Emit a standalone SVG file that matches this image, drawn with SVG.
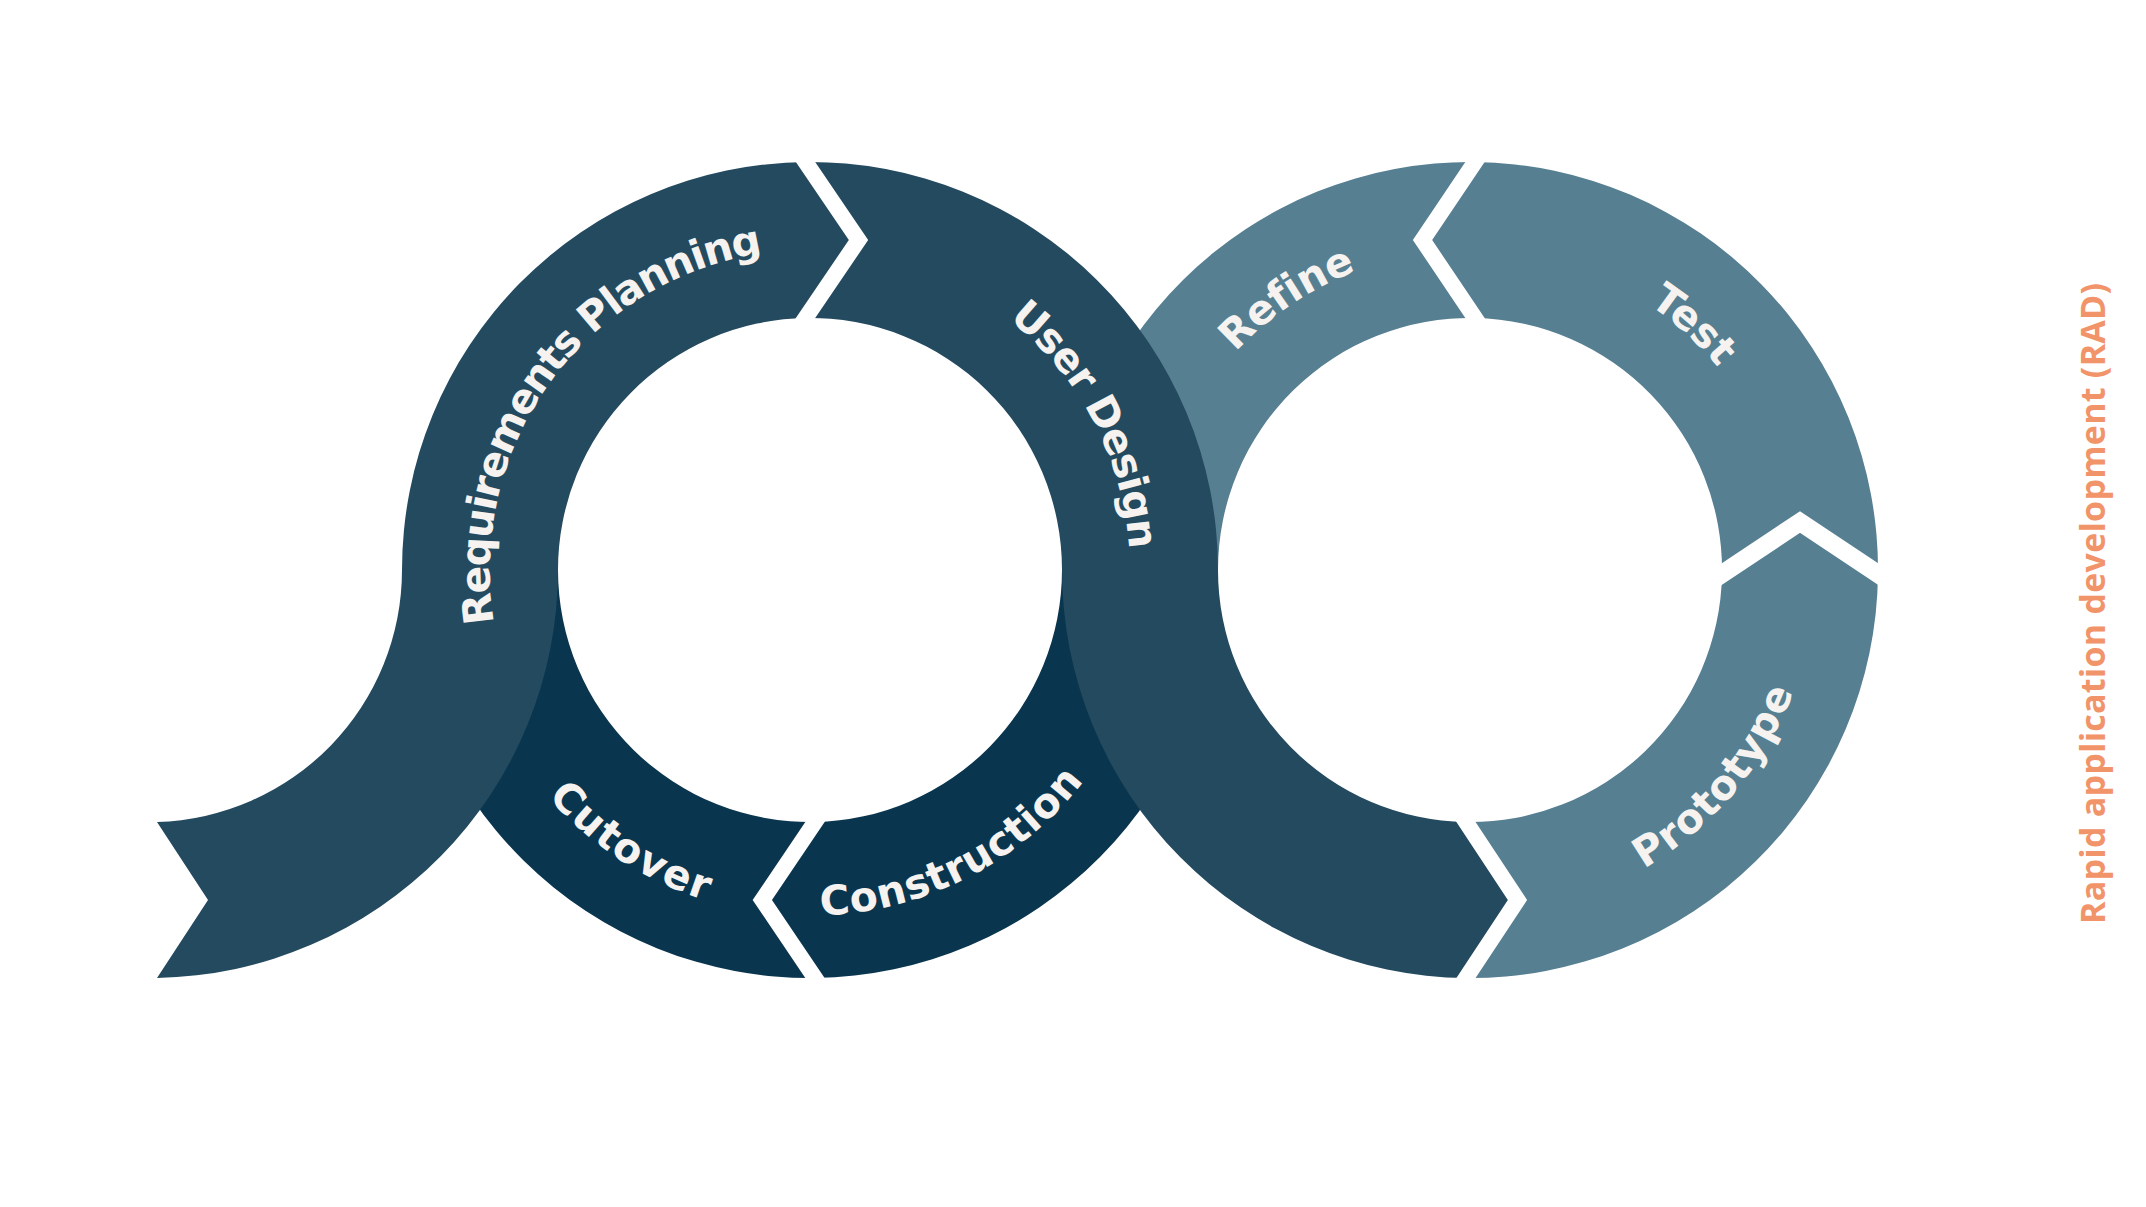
<svg xmlns="http://www.w3.org/2000/svg" xmlns:xlink="http://www.w3.org/1999/xlink" width="2146" height="1207" viewBox="0 0 2146 1207">
<style>
.c-dark{fill:#244a5f}
.c-deep{fill:#0a354e}
.c-light{fill:#567f92}
.lbl{font-family:"DejaVu Sans","Liberation Sans",sans-serif;font-weight:700;font-size:41px;fill:#f5f2ef}
.gap{fill:none;stroke:#ffffff;stroke-width:16;stroke-linejoin:miter;stroke-miterlimit:10}
.title{font-family:"Open Sans","Liberation Sans",sans-serif;font-weight:700;font-size:34px;fill:#f2946a}
</style>
<defs>
<path id="p-req" d="M 618.03 826.03 A 320 320 0 0 1 992.85 307.38"/>
<path id="p-ud" d="M 665.97 284.24 A 320 320 0 0 1 963.92 850.54"/>
<path id="p-cut" d="M 517.21 385.62 A 346 346 0 0 0 1096.18 764.49"/>
<path id="p-con" d="M 504.93 733.21 A 346 346 0 0 0 1120.57 417.48"/>
<path id="p-ref" d="M 1201.62 744.27 A 320 320 0 0 1 1732.13 386.46"/>
<path id="p-test" d="M 1237.23 350.42 A 320 320 0 0 1 1710.22 781.42"/>
<path id="p-pro" d="M 1251.57 838.32 A 346 346 0 0 0 1697.67 309.46"/>
</defs>
<rect width="2146" height="1207" fill="#ffffff"/>

<g id="refine">
<path class="c-light" d="M 1062 570 A 408 408 0 0 1 1475 162.0 L 1422.5 240 L 1475 318.0 A 252 252 0 0 0 1218 570 Z"/>
<text class="lbl" text-anchor="middle" letter-spacing="-0.3"><textPath xlink:href="#p-ref" href="#p-ref" startOffset="50%">Refine</textPath></text>
</g>
<g id="test">
<path class="c-light" d="M 1475 162.0 A 408 408 0 0 1 1878 574 L 1800 522 L 1722 574 A 252 252 0 0 0 1475 318.0 L 1422.5 240 Z"/>
<text class="lbl" text-anchor="middle"><textPath xlink:href="#p-test" href="#p-test" startOffset="50%">Test</textPath></text>
</g>
<g id="prototype">
<path class="c-light" d="M 1878 574 A 408 408 0 0 1 1466 978.0 L 1517.5 900 L 1466 822.0 A 252 252 0 0 0 1722 574 L 1800 522 Z"/>
<text class="lbl" text-anchor="middle" letter-spacing="0.85"><textPath xlink:href="#p-pro" href="#p-pro" startOffset="50%">Prototype</textPath></text>
</g>
<g id="cutover">
<path class="c-deep" d="M 402 570 A 408 408 0 0 0 815 978.0 L 762.3 900 L 815 822.0 A 252 252 0 0 1 558 570 Z"/>
</g>
<g id="construction">
<path class="c-deep" d="M 815 978.0 A 408 408 0 0 0 1218 570 L 1062 570 A 252 252 0 0 1 815 822.0 L 762.3 900 Z"/>
<text class="lbl" text-anchor="middle" letter-spacing="0.8"><textPath xlink:href="#p-con" href="#p-con" startOffset="50%">Construction</textPath></text>
</g>
<g id="requirements-planning">
<path class="c-dark" d="M 157 821.9 A 252 252 0 0 0 402 570 A 408 408 0 0 1 805.5 162.0 L 858.5 240 L 805.5 318.0 A 252 252 0 0 0 558 570 A 408 408 0 0 1 157 977.9 L 208 900 Z"/>
<text class="lbl" text-anchor="middle" letter-spacing="-1.6"><textPath xlink:href="#p-req" href="#p-req" startOffset="50%">Requirements Planning</textPath></text>
</g>
<g id="cutover-label">
<text class="lbl" text-anchor="middle" letter-spacing="1.6"><textPath xlink:href="#p-cut" href="#p-cut" startOffset="50%">Cutover</textPath></text>
</g>
<g id="user-design">
<path class="c-dark" d="M 805.5 162.0 A 408 408 0 0 1 1218 570 A 252 252 0 0 0 1466 822.0 L 1517.5 900 L 1466 978.0 A 408 408 0 0 1 1062 570 A 252 252 0 0 0 805.5 318.0 L 858.5 240 Z"/>
<text class="lbl" text-anchor="middle" letter-spacing="-1.1"><textPath xlink:href="#p-ud" href="#p-ud" startOffset="50%">User Design</textPath></text>
</g>

<g id="connectors">
<polyline class="gap" points="797.55,150.3 858.5,240 797.55,329.7"/>
<polyline class="gap" points="822.9,810.3 762.3,900 822.9,989.7"/>
<polyline class="gap" points="1482.9,150.3 1422.5,240 1482.9,329.7"/>
<polyline class="gap" points="1458.3,810.3 1517.5,900 1458.3,989.7"/>
<polyline class="gap" style="stroke-width:18" points="1710.3,581.8 1800,522 1889.7,581.8"/>
</g>

<g id="title">
<text class="title" transform="translate(2105 603.5) rotate(-90)" x="0" y="0" text-anchor="middle" textLength="641" lengthAdjust="spacing">Rapid application development (RAD)</text>
</g>
</svg>
